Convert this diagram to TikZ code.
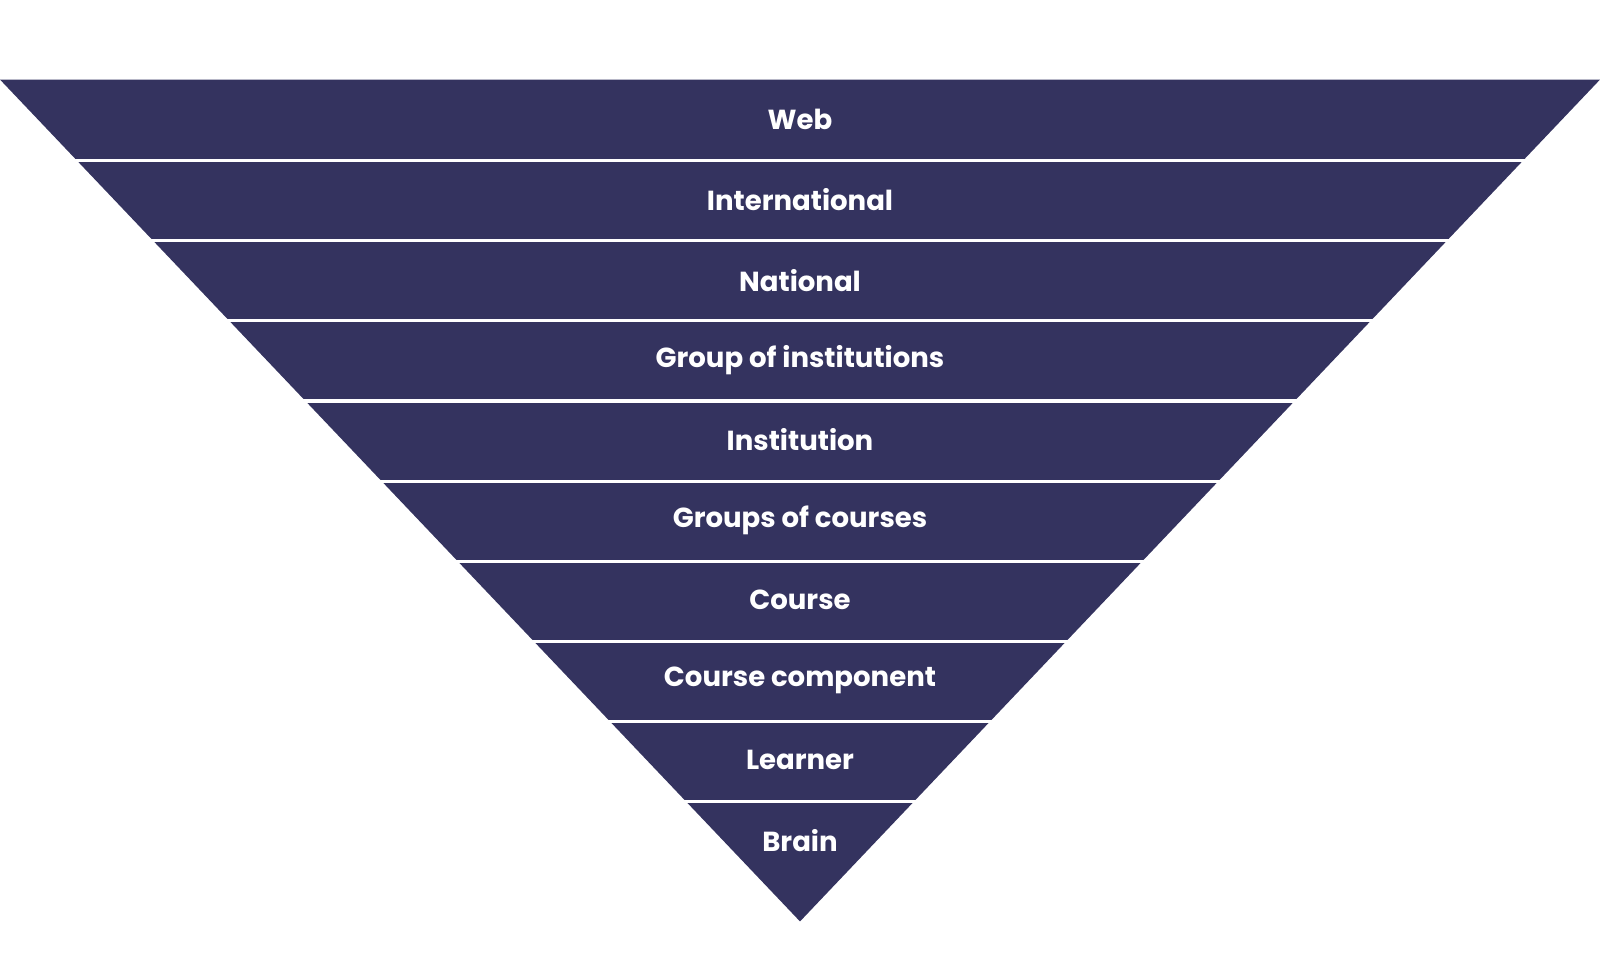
\documentclass[tikz,border=0pt]{standalone}
\usepackage{fontspec}
\setmainfont{Poppins}
\definecolor{band}{HTML}{34335F}
\begin{document}
\begin{tikzpicture}[x=1pt,y=-1pt,
  lbl/.style={text=white,font=\fontsize{27}{30}\selectfont\bfseries,anchor=center},
  sep/.style={draw=white,line width=3pt}]
\useasboundingbox (0,0) rectangle (1568,941);
\fill[band] (0,78) -- (1568,78) -- (784,903) -- cycle;
\foreach \y in {157,236,314.5,393,471.5,550,628.5,707,785.5}
  \draw[sep] (-5,\y) -- (1573,\y);
\foreach \t/\y/\n in {Web/117/a,International/196/b,National/275/c,Group of institutions/353/d,Institution/431/e,Groups of courses/510/f,Course/588/g,Course component/667/h,Learner/745/i,Brain/824/j}
  \node[lbl] (\n) at (784,\y) {\t};
\end{tikzpicture}
\end{document}
